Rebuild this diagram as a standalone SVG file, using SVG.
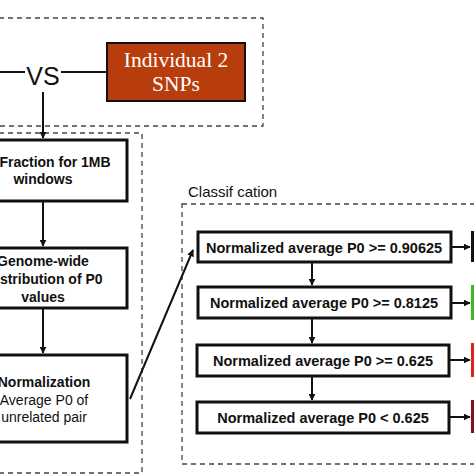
<svg xmlns="http://www.w3.org/2000/svg" width="474" height="474" viewBox="0 0 474 474">
<defs>
<marker id="ah" viewBox="0 0 10 10" refX="9" refY="5" markerWidth="7" markerHeight="7" markerUnits="userSpaceOnUse" orient="auto"><path d="M0,0 L10,5 L0,10 z" fill="#111"/></marker>
<style>
.dash{fill:none;stroke:#444;stroke-width:1.3;stroke-dasharray:5,4}
.box{fill:#fff;stroke:#111;stroke-width:3}
.cbox{fill:#fff;stroke:#111;stroke-width:3}
.bt{font-family:"Liberation Sans",Arial,sans-serif;font-weight:bold;font-size:14px;fill:#111;text-anchor:middle}
.rt{font-family:"Liberation Sans",Arial,sans-serif;font-size:14px;fill:#111;text-anchor:middle}
.ct{font-family:"Liberation Sans",Arial,sans-serif;font-weight:bold;font-size:14.5px;fill:#111;text-anchor:middle}
.ln{stroke:#111;stroke-width:2;fill:none}
.ar{stroke:#111;stroke-width:2;fill:none;marker-end:url(#ah)}
</style>
</defs>
<rect width="474" height="474" fill="#fff"/>
<g id="frames">
<rect class="dash" x="-10" y="18" width="273" height="108"/>
<rect class="dash" x="-10" y="133" width="152" height="340"/>
<rect class="dash" x="182" y="204" width="300" height="260"/>
<text x="188" y="197" font-family="'Liberation Sans',Arial,sans-serif" font-size="15" fill="#111">Classif cation</text>
</g>
<g id="vs">
<text x="43" y="85" font-family="'Liberation Sans',Arial,sans-serif" font-size="25" fill="#111" text-anchor="middle">VS</text>
</g>
<g id="individual2">
<rect x="107" y="43" width="138" height="58" fill="#b83d0c" stroke="#111" stroke-width="2"/>
<text x="176" y="67" font-family="'Liberation Serif','Times New Roman',serif" font-size="21.5" fill="#fff" text-anchor="middle">Individual 2</text>
<text x="176" y="91" font-family="'Liberation Serif','Times New Roman',serif" font-size="21.5" fill="#fff" text-anchor="middle">SNPs</text>
</g>
<g id="fraction">
<rect class="box" x="-43" y="140" width="170" height="61"/>
<text class="bt" x="55" y="167">Fraction for 1MB</text>
<text class="bt" x="43" y="184">windows</text>
</g>
<g id="genome">
<rect class="box" x="-43" y="248" width="170" height="60"/>
<text class="bt" x="43" y="266">Genome-wide</text>
<text class="bt" x="45" y="284">distribution of P0</text>
<text class="bt" x="43" y="302">values</text>
</g>
<g id="normalization">
<rect class="box" x="-43" y="355" width="170" height="87"/>
<text class="bt" x="44" y="387">Normalization</text>
<text class="rt" x="44" y="405">Average P0 of</text>
<text class="rt" x="44" y="422">unrelated pair</text>
</g>
<g id="c1">
<rect class="cbox" x="198" y="232" width="253" height="30"/>
<text class="ct" x="324" y="253">Normalized average P0 &gt;= 0.90625</text>
</g>
<g id="c2">
<rect class="cbox" x="198" y="287" width="253" height="31"/>
<text class="ct" x="324" y="308">Normalized average P0 &gt;= 0.8125</text>
</g>
<g id="c3">
<rect class="cbox" x="197" y="345" width="252" height="31"/>
<text class="ct" x="323" y="366">Normalized average P0 &gt;= 0.625</text>
</g>
<g id="c4">
<rect class="cbox" x="197" y="402" width="252" height="31"/>
<text class="ct" x="323" y="423">Normalized average P0 &lt; 0.625</text>
</g>
<g id="results">
<rect x="471" y="231" width="20" height="31" fill="#111"/>
<rect x="471" y="285" width="20" height="35" fill="#3db524"/>
<rect x="471" y="343" width="20" height="34" fill="#e0201e"/>
<rect x="471" y="400" width="20" height="33" fill="#7d1416"/>
</g>
<g id="connectors">
<line class="ln" x1="0" y1="72" x2="25" y2="72"/>
<line class="ln" x1="61" y1="72" x2="107" y2="72"/>
<line class="ar" x1="43" y1="92" x2="43" y2="138"/>
<line class="ar" x1="43" y1="202" x2="43" y2="246"/>
<line class="ar" x1="43" y1="309" x2="43" y2="353"/>
<line class="ar" x1="130" y1="399" x2="193" y2="250"/>
<line class="ar" x1="312" y1="263" x2="312" y2="285"/>
<line class="ar" x1="312" y1="319" x2="312" y2="343"/>
<line class="ar" x1="312" y1="377" x2="312" y2="400"/>
<line class="ar" x1="452" y1="247" x2="470" y2="247"/>
<line class="ar" x1="452" y1="303" x2="470" y2="303"/>
<line class="ar" x1="450" y1="360" x2="470" y2="360"/>
<line class="ar" x1="450" y1="417" x2="470" y2="417"/>
</g>
</svg>
